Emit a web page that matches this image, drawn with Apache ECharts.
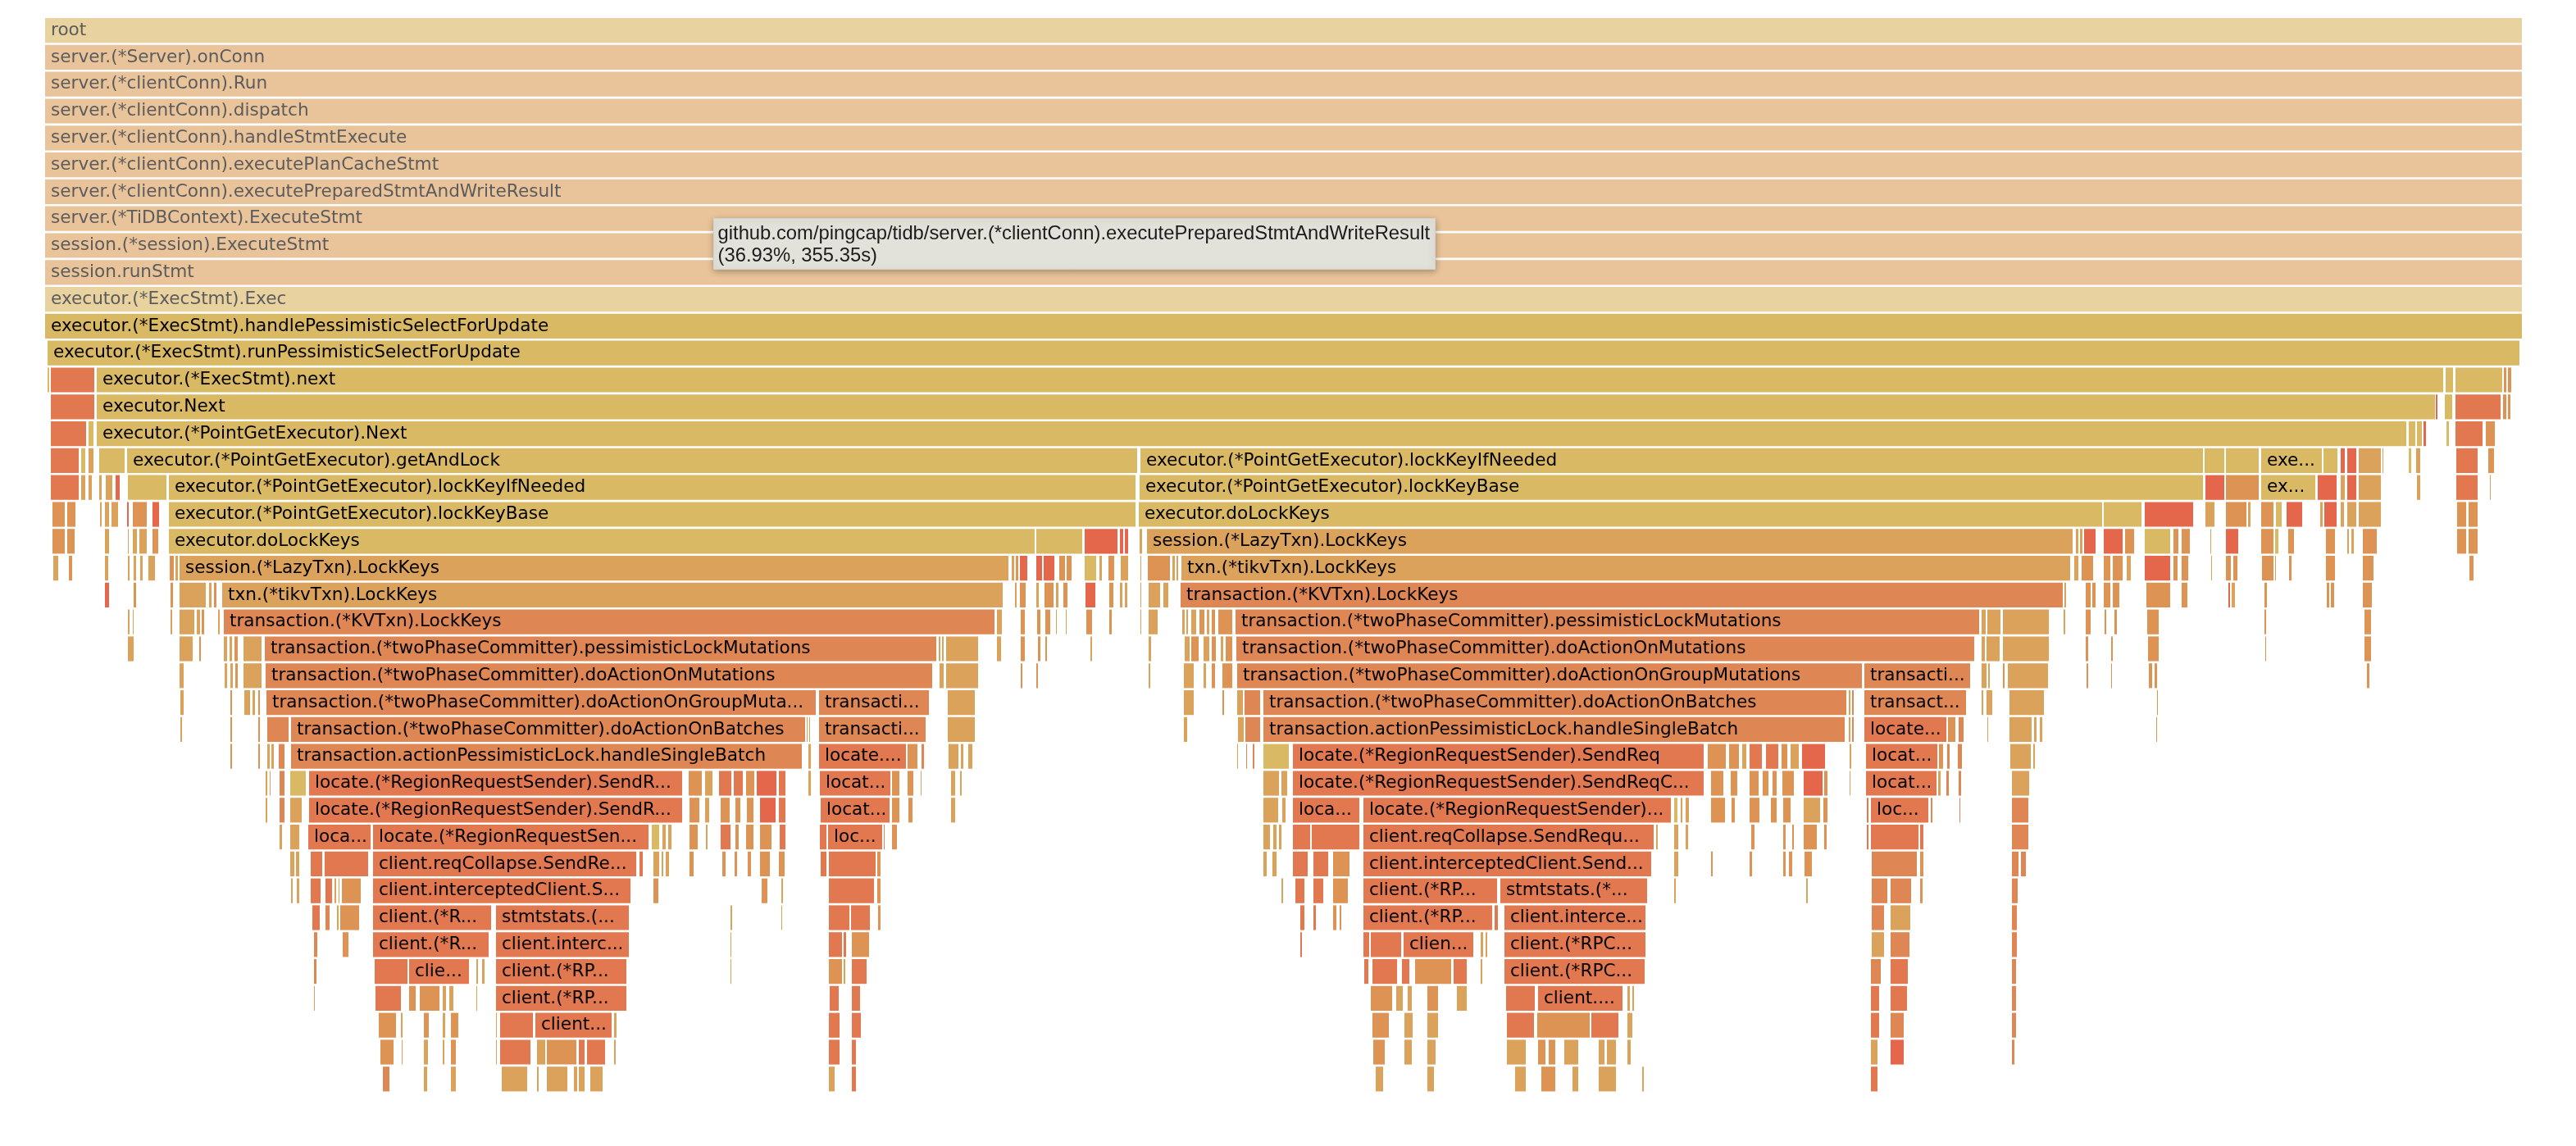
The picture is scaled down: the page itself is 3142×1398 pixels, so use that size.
<!DOCTYPE html>
<html>
<head>
<meta charset="utf-8">
<script src="https://cdn.jsdelivr.net/npm/echarts@6/dist/echarts.min.js"></script>
<style>
html,body{margin:0;padding:0;background:#fff;}
#chart{width:3142px;height:1398px;}
</style>
</head>
<body>
<div id="chart"></div>
<script>
// Flame graph: each frame = [level, startSample, endSample, colourKey, label as shown]
const TOTAL_SAMPLES = 3022;
const LEVEL_COUNT = 40;
const PALETTE = {r:'#E8D29F', a:'#E9C399', y:'#D9B964', d:'#DBA25B', m:'#DD9354', o:'#DE8755', e:'#E17850', R:'#E4674B'};

const trunkFrames = [
 [0,0,3022,'r','root'],
 [1,0,3022,'a','server.(*Server).onConn'],
 [2,0,3022,'a','server.(*clientConn).Run'],
 [3,0,3022,'a','server.(*clientConn).dispatch'],
 [4,0,3022,'a','server.(*clientConn).handleStmtExecute'],
 [5,0,3022,'a','server.(*clientConn).executePlanCacheStmt'],
 [6,0,3022,'a','server.(*clientConn).executePreparedStmtAndWriteResult'],
 [7,0,3022,'a','server.(*TiDBContext).ExecuteStmt'],
 [8,0,3022,'a','session.(*session).ExecuteStmt'],
 [9,0,3022,'a','session.runStmt'],
 [10,0,3022,'r','executor.(*ExecStmt).Exec'],
 [11,0,3022,'y','executor.(*ExecStmt).handlePessimisticSelectForUpdate'],
 [12,3,3019,'y','executor.(*ExecStmt).runPessimisticSelectForUpdate']
];

const upperFrames = [
 [13,3,6,'y',''],[13,7,61,'e',''],[13,63,2926,'y','executor.(*ExecStmt).next'],[13,2928,2938,'y',''],[13,2940,2998,'y',''],[13,2999,3003,'m',''],[13,3004,3009,'m',''],
 [14,7,61,'e',''],[14,63,2916,'y','executor.Next'],[14,2916,2919,'R',''],[14,2927,2937,'y',''],[14,2940,2996,'e',''],[14,2998,3003,'m',''],[14,3004,3008,'m',''],
 [15,7,51,'e',''],[15,53,60,'y',''],[15,63,2881,'y','executor.(*PointGetExecutor).Next'],[15,2883,2892,'y',''],[15,2893,2900,'y',''],[15,2901,2905,'R',''],[15,2929,2933,'y',''],[15,2940,2974,'e',''],[15,2977,2989,'m',''],
 [16,7,42,'e',''],[16,44,50,'y',''],[16,53,60,'d',''],[16,66,98,'y',''],[16,100,1333,'y','executor.(*PointGetExecutor).getAndLock'],[16,1336,2633,'y','executor.(*PointGetExecutor).lockKeyIfNeeded'],
 [16,2634,2659,'y',''],[16,2660,2701,'y',''],[16,2703,2778,'y','exe...'],[16,2779,2797,'y',''],[16,2800,2806,'R',''],[16,2808,2820,'R',''],[16,2822,2850,'d',''],[16,2851,2853,'d',''],[16,2883,2887,'y',''],[16,2892,2898,'d',''],[16,2941,2968,'e',''],[16,2980,2988,'m',''],
 [17,7,42,'e',''],[17,44,50,'d',''],[17,53,58,'d',''],[17,66,70,'d',''],[17,74,83,'d',''],[17,86,92,'R',''],[17,101,149,'y',''],[17,151,1331,'y','executor.(*PointGetExecutor).lockKeyIfNeeded'],[17,1335,2633,'y','executor.(*PointGetExecutor).lockKeyBase'],
 [17,2635,2659,'R',''],[17,2660,2701,'m',''],[17,2703,2770,'y','ex...'],[17,2772,2796,'R',''],[17,2800,2806,'d',''],[17,2808,2820,'R',''],[17,2822,2850,'d',''],[17,2893,2898,'d',''],[17,2941,2968,'e',''],[17,2982,2984,'d',''],
 [18,9,25,'m',''],[18,27,38,'m',''],[18,67,70,'d',''],[18,73,79,'d',''],[18,81,90,'d',''],[18,100,103,'R',''],[18,107,125,'m',''],[18,131,140,'R',''],[18,151,1331,'y','executor.(*PointGetExecutor).lockKeyBase'],[18,1334,2510,'y','executor.doLockKeys'],
 [18,2511,2558,'y',''],[18,2561,2621,'R',''],[18,2635,2647,'d',''],[18,2660,2686,'m',''],[18,2687,2691,'d',''],[18,2703,2719,'m',''],[18,2721,2729,'y',''],[18,2734,2754,'R',''],[18,2775,2779,'d',''],[18,2780,2796,'R',''],[18,2800,2805,'d',''],[18,2808,2820,'d',''],[18,2822,2850,'d',''],[18,2942,2954,'m',''],[18,2956,2968,'m','']
];

const middleFrames = [
 [19,9,25,'m',''],[19,27,37,'m',''],[19,73,79,'d',''],[19,101,103,'d',''],[19,107,113,'d',''],[19,115,125,'d',''],[19,131,139,'m',''],[19,151,1208,'y','executor.doLockKeys'],[19,1209,1266,'y',''],[19,1268,1309,'R',''],[19,1311,1316,'R',''],[19,1317,1322,'R',''],[19,1335,1339,'d',''],
 [19,1344,2474,'d','session.(*LazyTxn).LockKeys'],[19,2477,2481,'d',''],[19,2482,2486,'d',''],[19,2487,2502,'R',''],[19,2511,2535,'R',''],[19,2537,2549,'m',''],[19,2561,2593,'y',''],[19,2596,2603,'m',''],[19,2606,2617,'m',''],[19,2641,2643,'d',''],[19,2660,2676,'R',''],[19,2703,2719,'m',''],[19,2720,2725,'y',''],[19,2736,2744,'m',''],[19,2782,2794,'m',''],[19,2808,2811,'d',''],[19,2813,2817,'d',''],[19,2827,2845,'m',''],[19,2942,2954,'m',''],[19,2956,2968,'m',''],
 [20,10,17,'d',''],[20,29,34,'m',''],[20,73,78,'d',''],[20,101,104,'d',''],[20,108,112,'d',''],[20,116,120,'d',''],[20,126,135,'d',''],[20,152,158,'m',''],[20,159,163,'d',''],[20,164,1176,'d','session.(*LazyTxn).LockKeys'],[20,1179,1183,'d',''],[20,1184,1188,'m',''],[20,1189,1199,'R',''],[20,1209,1217,'R',''],[20,1218,1232,'R',''],[20,1237,1245,'m',''],[20,1246,1253,'m',''],[20,1268,1283,'y',''],[20,1286,1290,'d',''],[20,1297,1305,'m',''],[20,1312,1322,'d',''],[20,1336,1338,'d',''],[20,1345,1373,'m',''],[20,1375,1379,'d',''],[20,1380,1383,'d',''],
 [20,1386,2471,'d','txn.(*tikvTxn).LockKeys'],[20,2475,2481,'d',''],[20,2484,2499,'m',''],[20,2511,2520,'m',''],[20,2522,2535,'m',''],[20,2539,2545,'d',''],[20,2561,2593,'R',''],[20,2596,2602,'m',''],[20,2606,2615,'m',''],[20,2642,2644,'d',''],[20,2660,2667,'m',''],[20,2669,2675,'m',''],[20,2704,2719,'m',''],[20,2720,2722,'d',''],[20,2737,2741,'m',''],[20,2782,2794,'m',''],[20,2827,2841,'m',''],[20,2957,2963,'m',''],
 [21,73,79,'R',''],[21,108,112,'m',''],[21,153,157,'m',''],[21,164,197,'d',''],[21,200,204,'d',''],[21,206,210,'m',''],[21,216,1169,'d','txn.(*tikvTxn).LockKeys'],[21,1183,1186,'d',''],[21,1189,1197,'m',''],[21,1209,1213,'d',''],[21,1219,1231,'m',''],[21,1233,1237,'d',''],[21,1242,1248,'m',''],[21,1269,1282,'R',''],[21,1298,1304,'m',''],[21,1311,1315,'d',''],[21,1317,1321,'d',''],[21,1336,1338,'d',''],[21,1346,1361,'d',''],[21,1364,1371,'d',''],
 [21,1385,2462,'o','transaction.(*KVTxn).LockKeys'],[21,2463,2466,'d',''],[21,2489,2496,'m',''],[21,2497,2502,'m',''],[21,2511,2520,'m',''],[21,2522,2531,'m',''],[21,2563,2593,'m',''],[21,2606,2614,'m',''],[21,2663,2666,'R',''],[21,2667,2672,'d',''],[21,2707,2711,'m',''],[21,2783,2787,'m',''],[21,2788,2793,'m',''],[21,2827,2839,'m',''],
 [22,101,104,'d',''],[22,107,109,'d',''],[22,153,156,'d',''],[22,164,183,'d',''],[22,185,190,'d',''],[22,191,195,'m',''],[22,211,214,'d',''],[22,218,1159,'o','transaction.(*KVTxn).LockKeys'],[22,1161,1168,'d',''],[22,1190,1196,'m',''],[22,1210,1215,'m',''],[22,1220,1227,'m',''],[22,1233,1235,'d',''],[22,1245,1247,'d',''],[22,1270,1278,'m',''],[22,1298,1302,'m',''],[22,1336,1338,'d',''],[22,1346,1358,'d',''],[22,1387,1391,'d',''],[22,1392,1395,'d',''],[22,1398,1405,'d',''],[22,1408,1415,'m',''],[22,1417,1421,'d',''],[22,1423,1428,'m',''],[22,1431,1449,'m',''],
 [22,1452,2360,'o','transaction.(*twoPhaseCommitter).pessimisticLockMutations'],[22,2362,2368,'d',''],[22,2369,2386,'d',''],[22,2388,2445,'d',''],[22,2462,2465,'d',''],[22,2489,2496,'m',''],[22,2512,2515,'m',''],[22,2524,2528,'m',''],[22,2564,2579,'m',''],[22,2707,2710,'m',''],[22,2829,2838,'m',''],
 [23,101,109,'d',''],[23,164,181,'d',''],[23,188,191,'m',''],[23,218,223,'d',''],[23,225,229,'d',''],[23,231,236,'m',''],[23,242,265,'d',''],[23,268,1088,'o','transaction.(*twoPhaseCommitter).pessimisticLockMutations'],[23,1090,1093,'d',''],[23,1094,1097,'d',''],[23,1099,1139,'d',''],[23,1161,1167,'d',''],[23,1190,1196,'m',''],[23,1211,1215,'m',''],[23,1220,1223,'m',''],[23,1275,1278,'d',''],[23,1346,1350,'d',''],[23,1390,1397,'d',''],[23,1398,1408,'m',''],[23,1413,1421,'d',''],[23,1423,1429,'m',''],[23,1434,1438,'d',''],[23,1440,1449,'m',''],
 [23,1453,2354,'o','transaction.(*twoPhaseCommitter).doActionOnMutations'],[23,2362,2367,'d',''],[23,2368,2385,'d',''],[23,2388,2445,'d',''],[23,2489,2493,'m',''],[23,2520,2523,'m',''],[23,2565,2579,'m',''],[23,2708,2710,'m',''],[23,2829,2838,'m',''],
 [24,164,170,'d',''],[24,219,223,'d',''],[24,226,230,'d',''],[24,232,236,'m',''],[24,242,265,'d',''],[24,269,1083,'o','transaction.(*twoPhaseCommitter).doActionOnMutations'],[24,1091,1097,'d',''],[24,1099,1139,'d',''],[24,1190,1193,'m',''],[24,1209,1212,'m',''],[24,1346,1349,'d',''],[24,1389,1402,'d',''],[24,1413,1417,'d',''],[24,1423,1428,'m',''],[24,1436,1449,'m',''],
 [24,1454,2217,'o','transaction.(*twoPhaseCommitter).doActionOnGroupMutations'],[24,2219,2349,'o','transacti...'],[24,2362,2369,'d',''],[24,2370,2373,'d',''],[24,2388,2391,'m',''],[24,2394,2444,'d',''],[24,2490,2493,'m',''],[24,2520,2522,'m',''],[24,2566,2571,'m',''],[24,2573,2577,'m',''],[24,2832,2836,'m','']
];

const lowerFrames = [
 [25,165,170,'d',''],[25,226,229,'m',''],[25,243,251,'d',''],[25,253,257,'d',''],[25,260,263,'m',''],[25,270,941,'o','transaction.(*twoPhaseCommitter).doActionOnGroupMuta...'],[25,944,1079,'o','transacti...'],[25,1101,1135,'d',''],[25,1389,1402,'d',''],[25,1436,1439,'m',''],[25,1454,1462,'d',''],[25,1463,1483,'o',''],
 [25,1486,2198,'o','transaction.(*twoPhaseCommitter).doActionOnBatches'],[25,2200,2203,'d',''],[25,2204,2207,'o',''],[25,2219,2344,'o','transact...'],[25,2362,2365,'d',''],[25,2368,2376,'d',''],[25,2396,2439,'d',''],[25,2576,2578,'m',''],
 [26,165,168,'d',''],[26,226,229,'m',''],[26,260,263,'m',''],[26,271,298,'o',''],[26,300,928,'o','transaction.(*twoPhaseCommitter).doActionOnBatches'],[26,929,931,'d',''],[26,932,934,'d',''],[26,944,1075,'o','transacti...'],[26,1101,1135,'d',''],[26,1389,1394,'d',''],[26,1455,1463,'d',''],[26,1464,1483,'o',''],
 [26,1486,2196,'o','transaction.actionPessimisticLock.handleSingleBatch'],[26,2200,2203,'d',''],[26,2204,2207,'o',''],[26,2219,2320,'e','locate...'],[26,2321,2331,'m',''],[26,2334,2341,'o',''],[26,2369,2370,'d',''],[26,2396,2424,'d',''],[26,2426,2430,'d',''],[26,2433,2437,'d',''],[26,2575,2577,'m',''],
 [27,226,229,'m',''],[27,260,263,'m',''],[27,271,275,'d',''],[27,276,280,'d',''],[27,285,293,'o',''],[27,300,924,'o','transaction.actionPessimisticLock.handleSingleBatch'],[27,931,935,'d',''],[27,944,1051,'e','locate....'],[27,1052,1065,'m',''],[27,1069,1073,'o',''],[27,1102,1115,'d',''],[27,1117,1121,'d',''],[27,1126,1132,'d',''],[27,1454,1456,'d',''],[27,1465,1467,'o',''],[27,1473,1476,'o',''],[27,1486,1518,'y',''],
 [27,1522,2024,'e','locate.(*RegionRequestSender).SendReq'],[27,2028,2051,'m',''],[27,2054,2067,'m',''],[27,2070,2076,'d',''],[27,2079,2095,'e',''],[27,2099,2115,'e',''],[27,2118,2126,'m',''],[27,2129,2140,'d',''],[27,2143,2172,'R',''],[27,2201,2204,'d',''],[27,2221,2309,'e','locat...'],[27,2310,2316,'m',''],[27,2320,2324,'o',''],[27,2333,2339,'o',''],[27,2397,2423,'d',''],[27,2425,2428,'d',''],
 [28,269,272,'d',''],[28,274,276,'d',''],[28,286,293,'o',''],[28,299,319,'y',''],[28,322,778,'e','locate.(*RegionRequestSender).SendR...'],[28,785,802,'m',''],[28,805,815,'d',''],[28,822,838,'e',''],[28,840,852,'e',''],[28,855,866,'m',''],[28,868,893,'R',''],[28,895,904,'e',''],[28,931,935,'d',''],[28,945,1032,'e','locat...'],[28,1033,1043,'m',''],[28,1052,1060,'m',''],[28,1068,1070,'d',''],[28,1105,1111,'d',''],[28,1116,1119,'d',''],[28,1486,1506,'d',''],[28,1508,1516,'d',''],
 [28,1522,2024,'e','locate.(*RegionRequestSender).SendReqC...'],[28,2032,2048,'m',''],[28,2056,2065,'m',''],[28,2079,2091,'m',''],[28,2095,2103,'m',''],[28,2107,2113,'m',''],[28,2119,2134,'m',''],[28,2145,2169,'R',''],[28,2170,2175,'m',''],[28,2201,2203,'d',''],[28,2221,2308,'e','locat...'],[28,2309,2313,'d',''],[28,2319,2323,'o',''],[28,2334,2338,'o',''],[28,2399,2421,'d',''],
 [29,269,272,'d',''],[29,286,293,'o',''],[29,299,314,'d',''],[29,322,778,'e','locate.(*RegionRequestSender).SendR...'],[29,786,799,'m',''],[29,805,811,'d',''],[29,824,836,'m',''],[29,842,849,'m',''],[29,856,865,'m',''],[29,872,892,'R',''],[29,895,904,'e',''],[29,946,1031,'e','locat...'],[29,1033,1043,'m',''],[29,1053,1059,'m',''],[29,1105,1111,'d',''],[29,1486,1505,'d',''],[29,1509,1514,'d',''],
 [29,1522,1604,'e','loca...'],[29,1608,1984,'e','locate.(*RegionRequestSender)...'],[29,1987,1992,'y',''],[29,1995,1998,'d',''],[29,2001,2006,'d',''],[29,2032,2050,'m',''],[29,2057,2062,'m',''],[29,2079,2092,'m',''],[29,2105,2113,'m',''],[29,2120,2130,'m',''],[29,2145,2166,'d',''],[29,2169,2175,'m',''],[29,2222,2225,'e',''],[29,2227,2298,'e','loc...'],[29,2300,2303,'o',''],[29,2335,2337,'o',''],[29,2399,2420,'o',''],
 [30,286,290,'d',''],[30,299,311,'d',''],[30,321,398,'e','loca...'],[30,400,737,'e','locate.(*RegionRequestSen...'],[30,740,750,'y',''],[30,753,758,'d',''],[30,760,765,'d',''],[30,786,797,'m',''],[30,806,809,'d',''],[30,824,837,'e',''],[30,842,847,'m',''],[30,855,865,'m',''],[30,872,887,'m',''],[30,896,904,'e',''],[30,945,954,'e',''],[30,955,1022,'e','loc...'],[30,1023,1025,'o',''],[30,1033,1040,'m',''],
 [30,1486,1495,'d',''],[30,1498,1503,'d',''],[30,1505,1509,'d',''],[30,1522,1544,'e',''],[30,1545,1604,'e',''],[30,1608,1963,'e','client.reqCollapse.SendRequ...'],[30,1965,1968,'d',''],[30,1987,1993,'d',''],[30,2001,2005,'d',''],[30,2081,2086,'m',''],[30,2120,2124,'m',''],[30,2131,2134,'m',''],[30,2145,2162,'m',''],[30,2170,2174,'m',''],[30,2222,2225,'e',''],[30,2227,2286,'e',''],[30,2287,2292,'e',''],[30,2399,2420,'o',''],
 [31,299,305,'d',''],[31,306,311,'d',''],[31,324,339,'e',''],[31,341,395,'e',''],[31,400,722,'e','client.reqCollapse.SendRe...'],[31,725,730,'e',''],[31,742,750,'d',''],[31,752,755,'d',''],[31,757,762,'d',''],[31,786,792,'m',''],[31,826,831,'m',''],[31,841,845,'m',''],[31,857,862,'m',''],[31,872,885,'m',''],[31,895,903,'m',''],[31,946,954,'e',''],[31,956,1014,'e',''],[31,1015,1020,'m',''],
 [31,1486,1491,'d',''],[31,1497,1503,'d',''],[31,1522,1541,'e',''],[31,1547,1566,'e',''],[31,1571,1592,'m',''],[31,1608,1960,'e','client.interceptedClient.Send...'],[31,1987,1993,'d',''],[31,2032,2035,'m',''],[31,2079,2083,'m',''],[31,2120,2124,'m',''],[31,2127,2132,'m',''],[31,2146,2156,'m',''],[31,2228,2284,'o',''],[31,2287,2292,'m',''],[31,2399,2408,'o',''],[31,2410,2417,'o','']
];

const deepFrames = [
 [32,300,303,'d',''],[32,307,311,'d',''],[32,324,337,'e',''],[32,342,351,'e',''],[32,353,356,'d',''],[32,358,360,'d',''],[32,362,386,'m',''],[32,400,715,'e','client.interceptedClient.S...'],[32,742,749,'m',''],[32,874,882,'m',''],[32,898,901,'d',''],[32,956,1012,'e',''],[32,1015,1020,'m',''],
 [32,1508,1511,'d',''],[32,1525,1537,'e',''],[32,1547,1560,'e',''],[32,1571,1590,'m',''],[32,1608,1772,'e','client.(*RP...'],[32,1775,1955,'e','stmtstats.(*...'],[32,1987,1990,'d',''],[32,2148,2151,'d',''],[32,2228,2248,'o',''],[32,2251,2277,'o',''],[32,2287,2291,'m',''],[32,2399,2407,'o',''],
 [33,326,336,'e',''],[33,342,348,'o',''],[33,356,359,'d',''],[33,360,384,'m',''],[33,400,545,'e','client.(*R...'],[33,550,713,'e','stmtstats.(...'],[33,836,839,'d',''],[33,898,900,'d',''],[33,956,982,'e',''],[33,983,1007,'e',''],[33,1016,1020,'m',''],
 [33,1531,1537,'e',''],[33,1547,1551,'e',''],[33,1571,1576,'m',''],[33,1579,1582,'m',''],[33,1608,1766,'e','client.(*RP...'],[33,1768,1773,'e',''],[33,1780,1953,'e','client.interce...'],[33,2228,2244,'o',''],[33,2251,2276,'d',''],[33,2399,2406,'o',''],
 [34,328,333,'o',''],[34,363,371,'m',''],[34,400,542,'e','client.(*R...'],[34,550,713,'e','client.interc...'],[34,836,838,'d',''],[34,956,973,'e',''],[34,974,978,'e',''],[34,984,1006,'m',''],
 [34,1531,1534,'e',''],[34,1608,1616,'e',''],[34,1617,1655,'e',''],[34,1657,1743,'e','clien...'],[34,1751,1755,'d',''],[34,1757,1760,'d',''],[34,1780,1953,'e','client.(*RPC...'],[34,2228,2244,'d',''],[34,2251,2275,'o',''],[34,2399,2406,'o',''],
 [35,328,332,'o',''],[35,402,443,'e',''],[35,444,518,'e','clie...'],[35,526,529,'d',''],[35,533,537,'d',''],[35,550,710,'e','client.(*RP...'],[35,836,838,'d',''],[35,956,973,'m',''],[35,974,977,'d',''],[35,984,1003,'e',''],
 [35,1609,1615,'e',''],[35,1619,1650,'e',''],[35,1655,1665,'e',''],[35,1671,1716,'m',''],[35,1718,1735,'e',''],[35,1751,1754,'d',''],[35,1780,1952,'e','client.(*RPC...'],[35,2227,2240,'o',''],[35,2251,2273,'e',''],[35,2399,2405,'o',''],
 [36,328,330,'d',''],[36,403,435,'e',''],[36,444,453,'m',''],[36,457,482,'m',''],[36,485,490,'d',''],[36,493,499,'d',''],[36,526,528,'d',''],[36,550,710,'e','client.(*RP...'],[36,957,969,'e',''],[36,984,995,'e',''],
 [36,1617,1644,'m',''],[36,1648,1657,'d',''],[36,1662,1668,'d',''],[36,1686,1700,'m',''],[36,1722,1735,'d',''],[36,1782,1818,'e',''],[36,1821,1925,'e','client....'],[36,1930,1934,'d',''],[36,1936,1939,'d',''],[36,2227,2238,'e',''],[36,2251,2272,'e',''],[36,2399,2405,'o',''],
 [37,407,429,'m',''],[37,434,437,'d',''],[37,462,469,'m',''],[37,485,489,'d',''],[37,495,505,'m',''],[37,550,552,'d',''],[37,555,596,'e',''],[37,598,692,'e','client...'],[37,694,698,'d',''],[37,956,970,'e',''],[37,984,996,'e',''],
 [37,1619,1640,'m',''],[37,1658,1669,'d',''],[37,1686,1700,'d',''],[37,1783,1817,'e',''],[37,1820,1885,'m',''],[37,1886,1920,'e',''],[37,1930,1937,'d',''],[37,2227,2238,'e',''],[37,2251,2268,'o',''],[37,2399,2405,'o',''],
 [38,409,426,'m',''],[38,435,437,'d',''],[38,462,468,'d',''],[38,485,488,'d',''],[38,495,502,'m',''],[38,550,552,'d',''],[38,555,593,'e',''],[38,600,611,'d',''],[38,612,649,'m',''],[38,651,659,'e',''],[38,661,684,'e',''],[38,694,697,'d',''],[38,956,970,'e',''],[38,984,990,'e',''],
 [38,1620,1635,'m',''],[38,1658,1668,'d',''],[38,1686,1697,'d',''],[38,1783,1807,'d',''],[38,1821,1831,'m',''],[38,1834,1843,'m',''],[38,1853,1871,'d',''],[38,1895,1903,'d',''],[38,1905,1917,'d',''],[38,1930,1935,'d',''],[38,2227,2236,'d',''],[38,2251,2268,'R',''],[38,2399,2403,'o',''],
 [39,412,421,'o',''],[39,462,467,'d',''],[39,495,502,'d',''],[39,557,589,'d',''],[39,600,603,'d',''],[39,612,638,'d',''],[39,645,650,'d',''],[39,651,659,'d',''],[39,665,681,'d',''],[39,956,964,'d',''],[39,984,990,'e',''],
 [39,1623,1633,'d',''],[39,1686,1695,'d',''],[39,1793,1807,'d',''],[39,1825,1843,'m',''],[39,1863,1871,'d',''],[39,1895,1917,'d',''],[39,1948,1951,'d',''],[39,2227,2236,'e','']
];

const tooltipLines = ['github.com/pingcap/tidb/server.(*clientConn).executePreparedStmtAndWriteResult', '(36.93%, 355.35s)'];

const frames = [].concat(trunkFrames, upperFrames, middleFrames, lowerFrames, deepFrames);

const LABEL_FONT_SIZE = 21.6;
const LABEL_FONT_FAMILY = '"DejaVu Sans", Verdana, sans-serif';

const chart = echarts.init(document.getElementById('chart'), null, {renderer: 'canvas'});

function renderItem(params, api) {
  const f = frames[params.dataIndex];
  const s = api.value(0), e = api.value(1), lvl = api.value(2);
  const p0 = api.coord([s, lvl]);
  const p1 = api.coord([e, lvl]);
  const rowH = api.size([0, 1])[1];
  const w = Math.max(p1[0] - p0[0] - 1, 1);
  const h = rowH - 2.6;
  const children = [{
    type: 'rect',
    shape: {x: p0[0], y: p0[1], width: w, height: h},
    style: {fill: PALETTE[f[3]]}
  }];
  if (f[4] && w > 40) {
    children.push({
      type: 'text',
      x: p0[0] + 7,
      y: p0[1] + h / 2,
      style: {
        text: f[4],
        fill: lvl <= 10 ? '#5c5c5c' : '#000',
        fontSize: LABEL_FONT_SIZE,
        fontFamily: LABEL_FONT_FAMILY,
        verticalAlign: 'middle',
        align: 'left'
      }
    });
  }
  return {type: 'group', children: children};
}

const option = {
  animation: false,
  grid: {left: 55, top: 22, width: 3022, height: LEVEL_COUNT * 32.8},
  xAxis: {type: 'value', min: 0, max: TOTAL_SAMPLES, show: false},
  yAxis: {type: 'value', min: 0, max: LEVEL_COUNT, inverse: true, show: false},
  series: [{
    type: 'custom',
    renderItem: renderItem,
    encode: {x: [0, 1], y: 2},
    data: frames.map(f => [f[1], f[2], f[0]]),
    silent: true
  }],
  graphic: [{
    type: 'group',
    left: 870,
    top: 266,
    zlevel: 5,
    z: 100,
    children: [
      {type: 'rect', zlevel: 5, shape: {x: 0, y: 0, width: 880, height: 62},
       style: {fill: '#E3E2DA', stroke: '#d3d1c8', lineWidth: 1, shadowBlur: 8, shadowColor: 'rgba(0,0,0,0.28)', shadowOffsetY: 2}},
      {type: 'text', zlevel: 5, x: 5, y: 19, style: {text: tooltipLines[0], fill: '#1b1b1b', fontSize: 23.8, verticalAlign: 'middle', fontFamily: '"Liberation Sans", Arial, sans-serif'}},
      {type: 'text', zlevel: 5, x: 5, y: 46, style: {text: tooltipLines[1], fill: '#1b1b1b', fontSize: 23.8, verticalAlign: 'middle', fontFamily: '"Liberation Sans", Arial, sans-serif'}}
    ]
  }]
};
chart.setOption(option);
</script>
</body>
</html>
